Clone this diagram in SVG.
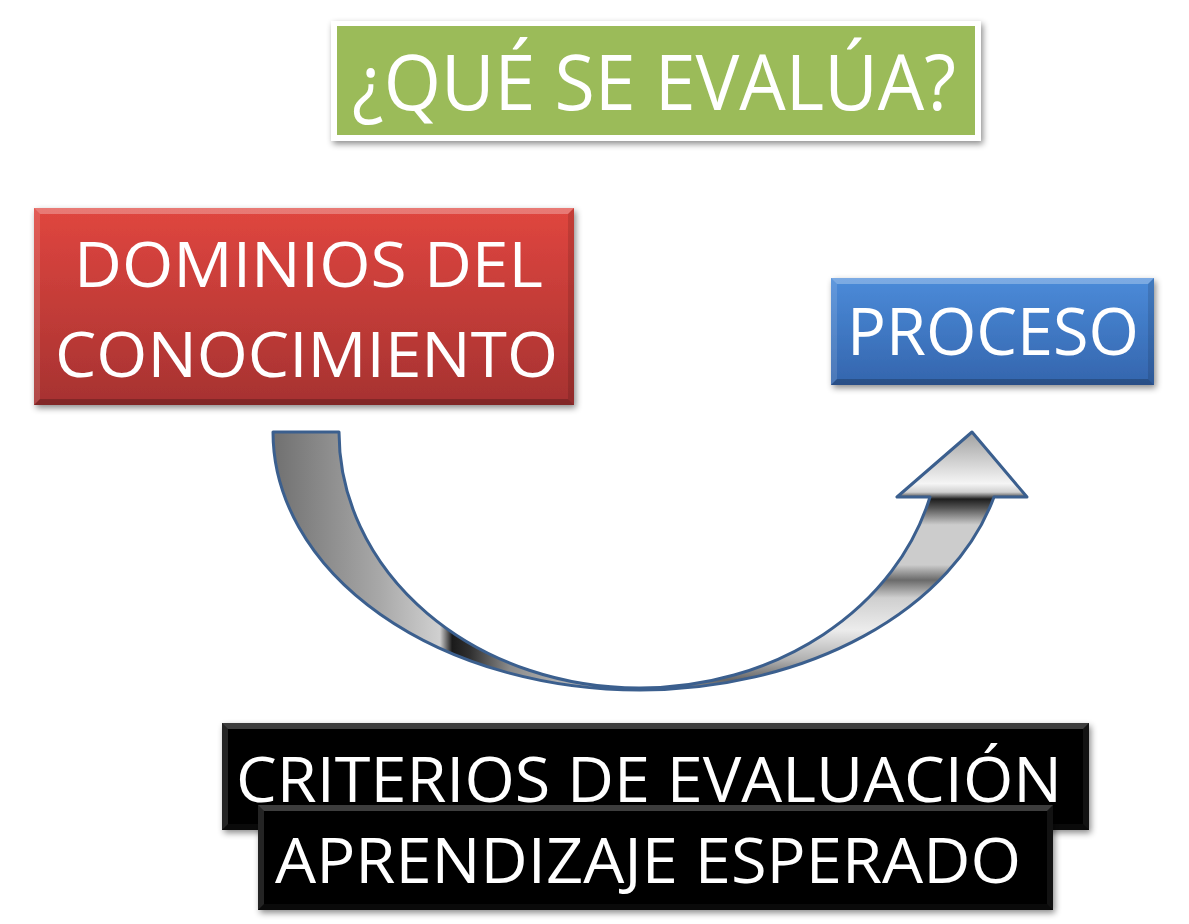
<svg xmlns="http://www.w3.org/2000/svg" width="1189" height="924" viewBox="0 0 1189 924">
  <style>
    .lbl { font-family: "Open Sans", "Noto Sans", "DejaVu Sans", sans-serif; fill: #ffffff; }
    .bvT { fill: #ffffff; fill-opacity: 0.28; }
    .bvL { fill: #ffffff; fill-opacity: 0.12; }
    .bvR { fill: #000000; fill-opacity: 0.12; }
    .bvB { fill: #000000; fill-opacity: 0.22; }
    .bvTk { fill: #ffffff; fill-opacity: 0.24; }
    .bvLk { fill: #ffffff; fill-opacity: 0.14; }
    .bvRk { fill: #ffffff; fill-opacity: 0.07; }
    .bvBk { fill: #ffffff; fill-opacity: 0.04; }
  </style>
  <defs>
    <filter id="shadow" x="-5%" y="-10%" width="110%" height="130%">
      <feDropShadow dx="2" dy="3" stdDeviation="3" flood-color="#000000" flood-opacity="0.45"/>
    </filter>
    <linearGradient id="gRed" x1="0" y1="0" x2="0" y2="1">
      <stop offset="0" stop-color="#e0463f"/>
      <stop offset="1" stop-color="#a63231"/>
    </linearGradient>
    <linearGradient id="gBlue" x1="0" y1="0" x2="0" y2="1">
      <stop offset="0" stop-color="#4b8bd9"/>
      <stop offset="1" stop-color="#3465ad"/>
    </linearGradient>
    <linearGradient id="gArrowL" gradientUnits="userSpaceOnUse" x1="273" y1="0" x2="640" y2="0">
      <stop offset="0" stop-color="#707070"/>
      <stop offset="0.29" stop-color="#a8a8a8"/>
      <stop offset="0.455" stop-color="#d0d0d0"/>
      <stop offset="0.488" stop-color="#1a1a1a"/>
      <stop offset="0.537" stop-color="#303030"/>
      <stop offset="0.646" stop-color="#8c8c8c"/>
      <stop offset="0.782" stop-color="#b0b0b0"/>
      <stop offset="1" stop-color="#a8a8a8"/>
    </linearGradient>
    <linearGradient id="gArrowR" gradientUnits="userSpaceOnUse" x1="0" y1="432" x2="0" y2="690">
      <stop offset="0" stop-color="#a0a0a0"/>
      <stop offset="0.2" stop-color="#f5f5f5"/>
      <stop offset="0.233" stop-color="#d0d0d0"/>
      <stop offset="0.26" stop-color="#1e1e1e"/>
      <stop offset="0.295" stop-color="#555555"/>
      <stop offset="0.36" stop-color="#cccccc"/>
      <stop offset="0.515" stop-color="#cccccc"/>
      <stop offset="0.574" stop-color="#6a6a6a"/>
      <stop offset="0.643" stop-color="#cfcfcf"/>
      <stop offset="0.767" stop-color="#ececec"/>
      <stop offset="0.884" stop-color="#b0b0b0"/>
      <stop offset="0.961" stop-color="#666666"/>
      <stop offset="1" stop-color="#999999"/>
    </linearGradient>
  </defs>

  <rect x="0" y="0" width="1189" height="924" fill="#ffffff"/>

  <g id="connectors">
    <path d="M273,432 A367,258 0 0 0 640,690 L640,688 A300,256 0 0 1 339,432 Z" fill="url(#gArrowL)"/>
    <path d="M640,690 A366,258 0 0 0 994,497 L1027,497 L972,432 L897,497 L930,497 A300,256 0 0 1 640,688 Z" fill="url(#gArrowR)"/>
    <path d="M273,432 A367,258 0 0 0 640,690 A366,258 0 0 0 994,497 L1027,497 L972,432 L897,497 L930,497 A300,256 0 0 1 640,688 A300,256 0 0 1 339,432 Z" fill="none" stroke="#3b5f8e" stroke-width="3" stroke-linejoin="round"/>
  </g>

  <g id="title">
    <rect x="331" y="21" width="650" height="120" fill="#ffffff" filter="url(#shadow)"/>
    <rect x="337" y="26" width="638" height="109" fill="#9bbb59"/>
    <text class="lbl" x="352" y="110" font-size="77" textLength="604" lengthAdjust="spacingAndGlyphs">¿QUÉ SE EVALÚA?</text>
  </g>

  <g id="dominios">
    <rect x="34" y="208" width="540" height="197" fill="url(#gRed)" filter="url(#shadow)"/>
    <polygon class="bvT" points="34,208 574,208 568,214 40,214"/>
    <polygon class="bvL" points="34,208 40,214 40,399 34,405"/>
    <polygon class="bvR" points="574,208 574,405 568,399 568,214"/>
    <polygon class="bvB" points="34,405 40,399 568,399 574,405"/>
    <text class="lbl" x="74" y="287" font-size="63" textLength="469" lengthAdjust="spacingAndGlyphs">DOMINIOS DEL</text>
    <text class="lbl" x="55" y="377" font-size="63" textLength="503" lengthAdjust="spacingAndGlyphs">CONOCIMIENTO</text>
  </g>

  <g id="proceso">
    <rect x="831" y="278" width="323" height="107" fill="url(#gBlue)" filter="url(#shadow)"/>
    <polygon class="bvT" points="831,278 1154,278 1148,284 837,284"/>
    <polygon class="bvL" points="831,278 837,284 837,379 831,385"/>
    <polygon class="bvR" points="1154,278 1154,385 1148,379 1148,284"/>
    <polygon class="bvB" points="831,385 837,379 1148,379 1154,385"/>
    <text class="lbl" x="847" y="355" font-size="66" textLength="292" lengthAdjust="spacingAndGlyphs">PROCESO</text>
  </g>

  <g id="criterios">
    <rect x="222" y="723" width="867" height="107" fill="#000000" filter="url(#shadow)"/>
    <polygon class="bvTk" points="222,723 1089,723 1083,729 228,729"/>
    <polygon class="bvLk" points="222,723 228,729 228,824 222,830"/>
    <polygon class="bvRk" points="1089,723 1089,830 1083,824 1083,729"/>
    <polygon class="bvBk" points="222,830 228,824 1083,824 1089,830"/>
    <text class="lbl" x="236" y="802" font-size="63" textLength="826" lengthAdjust="spacingAndGlyphs">CRITERIOS DE EVALUACIÓN</text>
  </g>

  <g id="aprendizaje">
    <rect x="258" y="805" width="795" height="105" fill="#000000" filter="url(#shadow)"/>
    <polygon class="bvTk" points="258,805 1053,805 1047,811 264,811"/>
    <polygon class="bvLk" points="258,805 264,811 264,904 258,910"/>
    <polygon class="bvRk" points="1053,805 1053,910 1047,904 1047,811"/>
    <polygon class="bvBk" points="258,910 264,904 1047,904 1053,910"/>
    <text class="lbl" x="275" y="883" font-size="63" textLength="746" lengthAdjust="spacingAndGlyphs">APRENDIZAJE ESPERADO</text>
  </g>
</svg>
